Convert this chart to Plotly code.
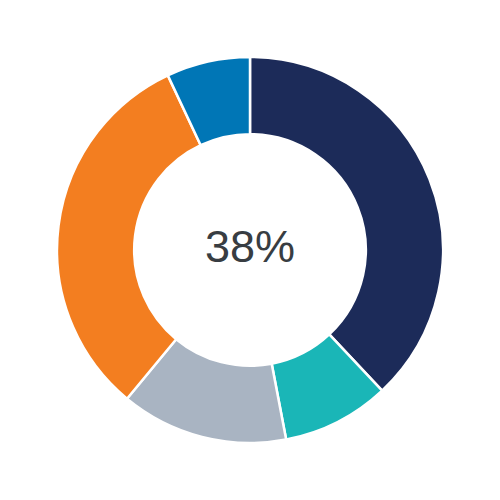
import plotly.graph_objects as go

# slice shares, clockwise from 12 o'clock
labels = ["A", "B", "C", "D", "E"]
values = [38, 9, 14, 32, 7]
colors = ["#1c2b59", "#1ab6b7", "#a9b4c2", "#f37e20", "#0076b6"]

center_text = "38%"

fig = go.Figure(
    go.Pie(
        labels=labels,
        values=values,
        hole=0.6,
        sort=False,
        direction="clockwise",
        rotation=0,
        marker=dict(colors=colors, line=dict(color="white", width=2.5)),
        textinfo="none",
        hoverinfo="label+percent",
    )
)

# page body adds an 8px offset, so margins are shifted to keep the ring centred
fig.update_layout(
    width=500,
    height=500,
    showlegend=False,
    margin=dict(l=49, r=65, t=49, b=65),
    paper_bgcolor="white",
    plot_bgcolor="white",
    annotations=[
        dict(
            text=center_text,
            x=0.5,
            y=0.5,
            xref="paper",
            yref="paper",
            yshift=4,
            showarrow=False,
            font=dict(family="Liberation Sans, Arial, sans-serif", size=45, color="#383d42"),
        )
    ],
)

fig.write_html("out.html")
